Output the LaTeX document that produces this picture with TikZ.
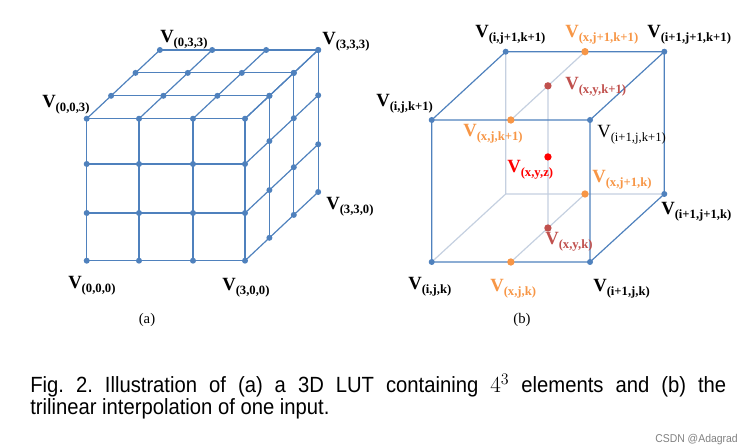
\documentclass[tikz,border=0pt]{standalone}
\usepackage{fontspec}
\usetikzlibrary{calc}
\setmainfont{Liberation Serif}
\newfontfamily\capfont[FakeStretch=0.92]{Liberation Sans}
\definecolor{lb}{HTML}{4F81BD}
\definecolor{lg}{HTML}{C5D0E0}
\definecolor{og}{HTML}{F79646}
\definecolor{dr}{HTML}{C0504D}
\newcommand\Vl[2][\bfseries]{{#1\fontsize{14}{14}\selectfont V\raisebox{-0.45ex}{\fontsize{9.5}{10}\selectfont #2}}}
\begin{document}
\begin{tikzpicture}[x=0.75pt,y=-0.75pt,
  gl/.style={lb,line width=0.9pt},
  hl/.style={lg,line width=0.9pt},
  dot/.style={circle,fill=lb,inner sep=0pt,minimum size=4.5pt},
  lab/.style={anchor=west,inner sep=0pt}]
\useasboundingbox (0,0) rectangle (745,448);
% ---------- left cube ----------
\def\dx{24.4}\def\dy{-22.9}
\foreach \i/\x in {0/86.7,1/139,2/193,3/245}{
  \foreach \j/\y in {0/260.7,1/213,2/164,3/118.7}{
    \coordinate (f\i\j) at (\x,\y);}}
% front grid
\foreach \k in {0,...,3}{
  \draw[gl] (f0\k) -- (f3\k);
  \draw[gl] (f\k0) -- (f\k3);}
% top and right faces
\foreach \k in {0,...,3}{
  \draw[gl] (f\k3) -- ++(3*\dx,3*\dy);
  \draw[gl] ($(f03)+(\k*\dx,\k*\dy)$) -- ($(f33)+(\k*\dx,\k*\dy)$);
  \draw[gl] (f3\k) -- ++(3*\dx,3*\dy);
  \draw[gl] ($(f30)+(\k*\dx,\k*\dy)$) -- ($(f33)+(\k*\dx,\k*\dy)$);}
\foreach \i in {0,...,3}{\foreach \j in {0,...,3}{
  \node[dot] (fd\i\j) at (f\i\j) {};}}
\foreach \d in {1,2,3}{\foreach \k in {0,...,3}{
  \node[dot] (td\d\k) at ($(f\k3)+(\d*\dx,\d*\dy)$) {};
  \node[dot] (rd\d\k) at ($(f3\k)+(\d*\dx,\d*\dy)$) {};}}
\node[lab] (l033) at (160,40) {\Vl{(0,3,3)}};
\node[lab] (l333) at (322,42) {\Vl{(3,3,3)}};
\node[lab] (l003) at (42,105) {\Vl{(0,0,3)}};
\node[lab] (l330) at (326,207) {\Vl{(3,3,0)}};
\node[lab] (l000) at (68,286) {\Vl{(0,0,0)}};
\node[lab] (l300) at (222,288) {\Vl{(3,0,0)}};
\node (ca) at (147,320) {\fontsize{11}{12}\selectfont (a)};
% ---------- right cube ----------
\coordinate (A) at (431.7,262);
\coordinate (B) at (590,262);
\coordinate (C) at (590,120);
\coordinate (D) at (431.7,120);
\coordinate (E) at (505.7,194);
\coordinate (F) at (664.3,194);
\coordinate (G) at (664.3,51.7);
\coordinate (H) at (505.7,51.7);
\coordinate (o1) at ($(A)!0.5!(B)$);
\coordinate (o2) at ($(E)!0.5!(F)$);
\coordinate (o3) at ($(D)!0.5!(C)$);
\coordinate (o4) at ($(H)!0.5!(G)$);
\coordinate (r1) at ($(o1)!0.5!(o2)$);
\coordinate (r2) at ($(o3)!0.5!(o4)$);
\coordinate (rc) at ($(r1)!0.5!(r2)$);
\draw[hl] (A) -- (E) -- (F) (E) -- (H) (o1) -- (o2) (o3) -- (o4) (r1) -- (r2);
\draw[gl] (A) -- (B) -- (C) -- (D) -- cycle (D) -- (H) -- (G) -- (C) (G) -- (F) -- (B);
\foreach \p in {A,B,C,D,F,G,H}{\node[dot] (d\p) at (\p) {};}
\foreach \p in {o1,o2,o3,o4}{\node[dot,fill=og,minimum size=5.5pt] (d\p) at (\p) {};}
\foreach \p in {r1,r2}{\node[dot,fill=dr,minimum size=5.5pt] (d\p) at (\p) {};}
\node[dot,fill=red,minimum size=5.5pt] (drc) at (rc) {};
\node[lab] at (475,35) {\Vl{(i,j+1,k+1)}};
\node[lab,text=og] at (565,35) {\Vl{(x,j+1,k+1)}};
\node[lab] at (647,35) {\Vl{(i+1,j+1,k+1)}};
\node[lab,text=dr] at (565,87) {\Vl{(x,y,k+1)}};
\node[lab] at (376,104) {\Vl{(i,j,k+1)}};
\node[lab,text=og] at (463,134) {\Vl{(x,j,k+1)}};
\node[lab] at (597,135) {\Vl[\mdseries]{(i+1,j,k+1)}};
\node[lab,text=red] at (507,170) {\Vl{(x,y,z)}};
\node[lab,text=og] at (592,180) {\Vl{(x,j+1,k)}};
\node[lab] at (661,212) {\Vl{(i+1,j+1,k)}};
\node[lab,text=dr] at (545,242) {\Vl{(x,y,k)}};
\node[lab] at (408,287) {\Vl{(i,j,k)}};
\node[lab,text=og] at (490,289) {\Vl{(x,j,k)}};
\node[lab] at (593,289) {\Vl{(i+1,j,k)}};
\node (cb) at (522,320) {\fontsize{11}{12}\selectfont (b)};
% ---------- caption ----------
\node[anchor=north west,inner sep=0pt,text width=522pt,align=justify] (cap) at (30,374)
 {\frenchspacing\capfont\fontsize{16.5}{19.5}\selectfont Fig. 2. Illustration of (a) a 3D LUT containing $4^3$ elements and (b) the\linebreak trilinear interpolation of one input.};
\node[anchor=east,inner sep=0pt,text=gray] (wm) at (738,440) {\capfont\fontsize{8.5}{9}\selectfont CSDN @Adagrad};
\end{tikzpicture}
\end{document}
